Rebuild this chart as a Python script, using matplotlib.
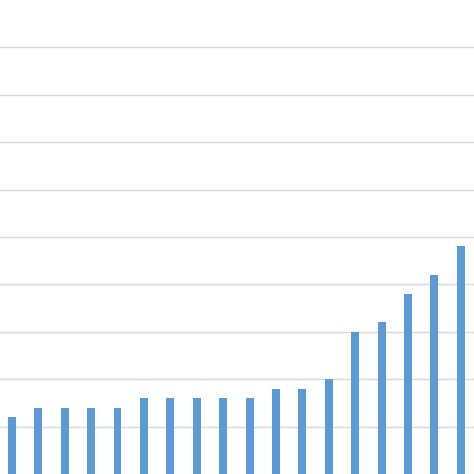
import matplotlib
matplotlib.use('Agg')
import matplotlib.pyplot as plt

positions = list(range(18))
values = [1.2, 1.4, 1.4, 1.4, 1.4, 1.6, 1.6, 1.6, 1.6, 1.6,
          1.8, 1.8, 2.0, 3.0, 3.2, 3.8, 4.2, 4.8]

fig = plt.figure(figsize=(4.74, 4.74), dpi=100)
ax = fig.add_axes([0, 0, 1, 1])
ax.bar(positions, values, width=0.3, color='#5B9BD5', zorder=3)
ax.set_xlim(-0.45, 17.5)
ax.set_ylim(0, 10)
ax.set_yticks(range(1, 10))
ax.yaxis.grid(True, color='#d9d9d9', linewidth=1)
ax.set_axisbelow(True)
for s in ax.spines.values():
    s.set_visible(False)
ax.tick_params(left=False, bottom=False, labelleft=False, labelbottom=False)
fig.savefig('out.png', dpi=100)
